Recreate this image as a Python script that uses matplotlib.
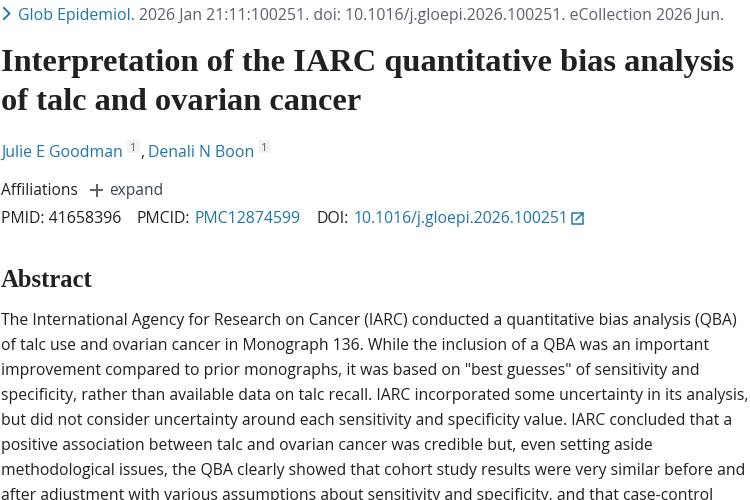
import matplotlib
matplotlib.use('Agg')
import matplotlib.pyplot as plt
from matplotlib.patches import Rectangle

blue = '#1f75ad'
dark = '#212121'
grey = '#5b616b'
body_font = 'Open Sans'
title_font = 'Liberation Serif'

journal = 'Glob Epidemiol.'
citation = '2026 Jan 21:11:100251. doi: 10.1016/j.gloepi.2026.100251. eCollection 2026 Jun.'
title_lines = ['Interpretation of the IARC quantitative bias analysis',
               'of talc and ovarian cancer']
authors = ['Julie E Goodman', 'Denali N Boon']
abstract_lines = [
    'The International Agency for Research on Cancer (IARC) conducted a quantitative bias analysis (QBA)',
    'of talc use and ovarian cancer in Monograph 136. While the inclusion of a QBA was an important',
    'improvement compared to prior monographs, it was based on "best guesses" of sensitivity and',
    'specificity, rather than available data on talc recall. IARC incorporated some uncertainty in its analysis,',
    'but did not consider uncertainty around each sensitivity and specificity value. IARC concluded that a',
    'positive association between talc and ovarian cancer was credible but, even setting aside',
    'methodological issues, the QBA clearly showed that cohort study results were very similar before and',
    'after adjustment with various assumptions about sensitivity and specificity, and that case-control',
]

fig = plt.figure(figsize=(7.5, 5), dpi=100)
ax = fig.add_axes([0, 0, 1, 1])
ax.set_xlim(0, 750)
ax.set_ylim(500, 0)
ax.axis('off')


def put(x, y, s, size=11.3, color=dark, **kw):
    kw.setdefault('family', body_font)
    return ax.text(x, y, s, fontsize=size, color=color, va='baseline', ha='left', **kw)


# header
ax.plot([4, 9.5, 4], [8, 13.5, 19], color=blue, lw=1.4)
put(18, 19.5, journal, color=blue, size=11.4)
put(139, 19.5, citation, color=grey, size=11.4)

# title
put(1, 71.5, title_lines[0], size=23.3, weight='bold', family=title_font)
put(1, 109.5, title_lines[1], size=23.3, weight='bold', family=title_font)

# authors
put(1, 157, authors[0], color=blue, size=11.4)
ax.add_patch(Rectangle((127, 140), 13, 13, color='#f1f1f1', lw=0))
put(130, 151, '1', color=grey, size=8.2)
put(140, 157, ',', color=dark, size=11.4)
put(148, 157, authors[1], color=blue, size=11.4)
ax.add_patch(Rectangle((259, 140), 11, 13, color='#f1f1f1', lw=0))
put(261, 151, '1', color=grey, size=8.2)

# affiliations
put(1, 195, 'Affiliations', size=11.2)
ax.plot([91, 102], [190, 190], color=grey, lw=1.4)
ax.plot([96.5, 96.5], [184.5, 195.5], color=grey, lw=1.4)
put(109, 195, 'expand', size=11.2, color='#3d4551')

# ids
put(1, 223, 'PMID: 41658396', size=11.4)
put(136, 223, 'PMCID:', size=11.4)
put(195, 223, 'PMC12874599', size=11.4, color=blue)
put(317, 223, 'DOI:', size=11.4)
put(354, 223, '10.1016/j.gloepi.2026.100251', size=11.35, color=blue)
ax.plot([577, 572, 572, 583, 583], [213, 213, 224, 224, 219], color=blue, lw=1.1)
ax.plot([576, 583], [220, 213], color=blue, lw=1.1)
ax.plot([579, 583, 583], [213, 213, 217], color=blue, lw=1.1)

# abstract
put(1, 287, 'Abstract', size=17.7, weight='bold', family=title_font)
for i, line in enumerate(abstract_lines):
    put(1, 325 + i * 25, line, size=11.3)

fig.savefig('out.png', dpi=100)
